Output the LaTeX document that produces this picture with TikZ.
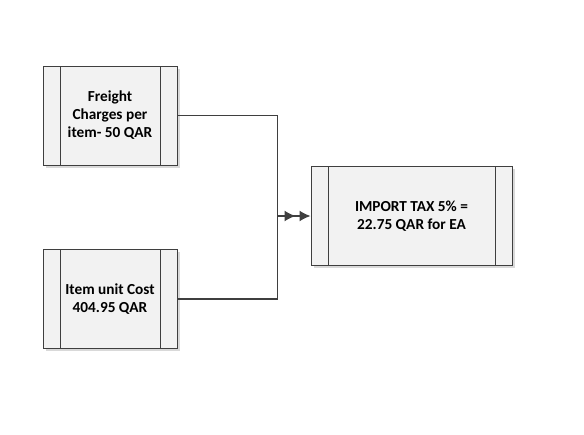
\documentclass[tikz,border=0pt]{standalone}
\usepackage{fontspec}
\setmainfont{Carlito}
\usetikzlibrary{arrows.meta,shadows}
\definecolor{boxfill}{HTML}{F2F2F2}
\definecolor{linec}{HTML}{3F3F3F}
\tikzset{
  procbox/.style={draw=linec, line width=1pt, fill=boxfill,
    drop shadow={shadow xshift=2.5pt, shadow yshift=-2.5pt, fill=black!25, opacity=0.6},
    minimum width=#1, minimum height=99pt, inner sep=0pt,
    align=center, font=\bfseries\fontsize{15.3}{18}\selectfont,
    path picture={
      \draw[linec, line width=1pt]
        ([xshift=17pt]path picture bounding box.north west) -- ([xshift=17pt]path picture bounding box.south west)
        ([xshift=-17pt]path picture bounding box.north east) -- ([xshift=-17pt]path picture bounding box.south east);
    }},
  conn/.style={draw=linec, line width=1.4pt},
  arr/.style={conn, -{Latex[length=11pt,width=11pt,sep=4pt]Latex[length=11pt,width=11pt]}, shorten >=0pt}
}
\begin{document}
\begin{tikzpicture}[x=1pt,y=-1pt]
\useasboundingbox (0,0) rectangle (584,434);
\node[procbox=134pt] (f) at (110,115.5) {Freight\\Charges per\\item- 50 QAR};
\node[procbox=134pt] (c) at (110,299) {Item unit Cost\\404.95 QAR};
\node[procbox=201pt] (t) at (411.5,216) {IMPORT TAX 5\% =\\22.75 QAR for EA};
\coordinate (j) at (277.5,216);
\draw[conn] (f.east) -| (j);
\draw[conn] (c.east) -| (j);
\draw[arr] (j) -- (t.west);
\end{tikzpicture}
\end{document}
